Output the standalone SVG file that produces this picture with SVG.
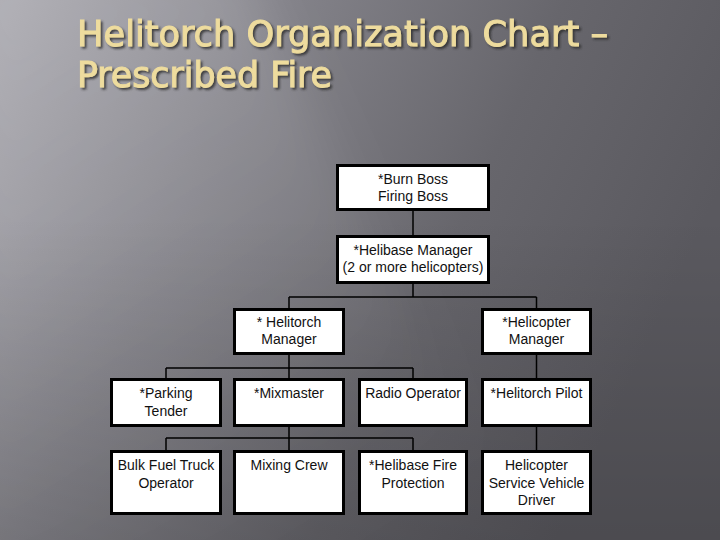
<svg xmlns="http://www.w3.org/2000/svg" width="720" height="540" viewBox="0 0 720 540">
  <defs>
    <linearGradient id="bg" x1="0" y1="0" x2="1" y2="0.35">
      <stop offset="0" stop-color="#a5a4ab"/>
      <stop offset="0.35" stop-color="#84838a"/>
      <stop offset="0.7" stop-color="#67666c"/>
      <stop offset="1" stop-color="#5a595f"/>
    </linearGradient>
    <linearGradient id="bottomShade" x1="0" y1="0" x2="0" y2="1">
      <stop offset="0.4" stop-color="#000" stop-opacity="0"/>
      <stop offset="1" stop-color="#000" stop-opacity="0.16"/>
    </linearGradient>
    <linearGradient id="streak" x1="0" y1="0" x2="0.6" y2="1">
      <stop offset="0" stop-color="#fff" stop-opacity="0.16"/>
      <stop offset="0.6" stop-color="#fff" stop-opacity="0.06"/>
      <stop offset="1" stop-color="#fff" stop-opacity="0"/>
    </linearGradient>
    <filter id="blur" x="-20%" y="-20%" width="140%" height="140%">
      <feGaussianBlur stdDeviation="25"/>
    </filter>
    <filter id="shadow" x="-5%" y="-20%" width="110%" height="140%">
      <feDropShadow dx="2" dy="2" stdDeviation="1" flood-color="#2a2a2a" flood-opacity="0.8"/>
    </filter>
  </defs>
  <style>
    .box { fill: #ffffff; stroke: #000000; stroke-width: 3; }
    .lbl { font-family: "Liberation Sans", Arial, sans-serif; font-size: 14px; fill: #111111; text-anchor: middle; }
    .conn { stroke: #000000; stroke-width: 1.5; fill: none; }
    .title { font-family: "DejaVu Sans Condensed", "DejaVu Sans", Tahoma, sans-serif; font-size: 35px; fill: #eedc9e; stroke: #eedc9e; stroke-width: 0.9; filter: url(#shadow); }
  </style>

  <rect x="0" y="0" width="720" height="540" fill="url(#bg)"/>
  <polygon points="-40,-40 240,-40 540,580 -40,580" fill="url(#streak)" filter="url(#blur)"/>
  <rect x="0" y="0" width="720" height="540" fill="url(#bottomShade)"/>

  <g id="title">
    <text class="title" x="77" y="46" textLength="531" lengthAdjust="spacingAndGlyphs">Helitorch Organization Chart –</text>
    <text class="title" x="77" y="87" textLength="255" lengthAdjust="spacingAndGlyphs">Prescribed Fire</text>
  </g>

  <g id="connectors">
    <path class="conn" d="M413,211 V235"/>
    <path class="conn" d="M413,284 V297 M289,297 H536.5 M289,297 V308 M536.5,297 V308"/>
    <path class="conn" d="M289,355 V368 M166,368 H413 M166,368 V378 M289,368 V378 M413,368 V378"/>
    <path class="conn" d="M536.5,355 V378"/>
    <path class="conn" d="M289,427 V438 M166,438 H413 M166,438 V450 M289,438 V450 M413,438 V450"/>
    <path class="conn" d="M536.5,427 V450"/>
  </g>

  <g id="burn-boss">
    <rect class="box" x="337.5" y="165.5" width="151" height="44"/>
    <text class="lbl" x="413" y="184">*Burn Boss</text>
    <text class="lbl" x="413" y="201">Firing Boss</text>
  </g>
  <g id="helibase-manager">
    <rect class="box" x="337.5" y="236.5" width="151" height="46"/>
    <text class="lbl" x="413" y="255">*Helibase Manager</text>
    <text class="lbl" x="413" y="272">(2 or more helicopters)</text>
  </g>
  <g id="helitorch-manager">
    <rect class="box" x="234.5" y="309.5" width="109" height="44"/>
    <text class="lbl" x="289" y="327">* Helitorch</text>
    <text class="lbl" x="289" y="344">Manager</text>
  </g>
  <g id="helicopter-manager">
    <rect class="box" x="482.5" y="309.5" width="108" height="44"/>
    <text class="lbl" x="536.5" y="327">*Helicopter</text>
    <text class="lbl" x="536.5" y="344">Manager</text>
  </g>
  <g id="parking-tender">
    <rect class="box" x="111.5" y="379.5" width="109" height="46"/>
    <text class="lbl" x="166" y="398">*Parking</text>
    <text class="lbl" x="166" y="416">Tender</text>
  </g>
  <g id="mixmaster">
    <rect class="box" x="234.5" y="379.5" width="109" height="46"/>
    <text class="lbl" x="289" y="398">*Mixmaster</text>
  </g>
  <g id="radio-operator">
    <rect class="box" x="359.5" y="379.5" width="107" height="46"/>
    <text class="lbl" x="413" y="398">Radio Operator</text>
  </g>
  <g id="helitorch-pilot">
    <rect class="box" x="482.5" y="379.5" width="108" height="46"/>
    <text class="lbl" x="536.5" y="398">*Helitorch Pilot</text>
  </g>
  <g id="bulk-fuel-truck-operator">
    <rect class="box" x="111.5" y="451.5" width="109" height="62"/>
    <text class="lbl" x="166" y="470">Bulk Fuel Truck</text>
    <text class="lbl" x="166" y="488">Operator</text>
  </g>
  <g id="mixing-crew">
    <rect class="box" x="234.5" y="451.5" width="109" height="62"/>
    <text class="lbl" x="289" y="470">Mixing Crew</text>
  </g>
  <g id="helibase-fire-protection">
    <rect class="box" x="359.5" y="451.5" width="107" height="62"/>
    <text class="lbl" x="413" y="470">*Helibase Fire</text>
    <text class="lbl" x="413" y="488">Protection</text>
  </g>
  <g id="helicopter-service-vehicle-driver">
    <rect class="box" x="482.5" y="451.5" width="108" height="62"/>
    <text class="lbl" x="536.5" y="470">Helicopter</text>
    <text class="lbl" x="536.5" y="488">Service Vehicle</text>
    <text class="lbl" x="536.5" y="505">Driver</text>
  </g>
</svg>
